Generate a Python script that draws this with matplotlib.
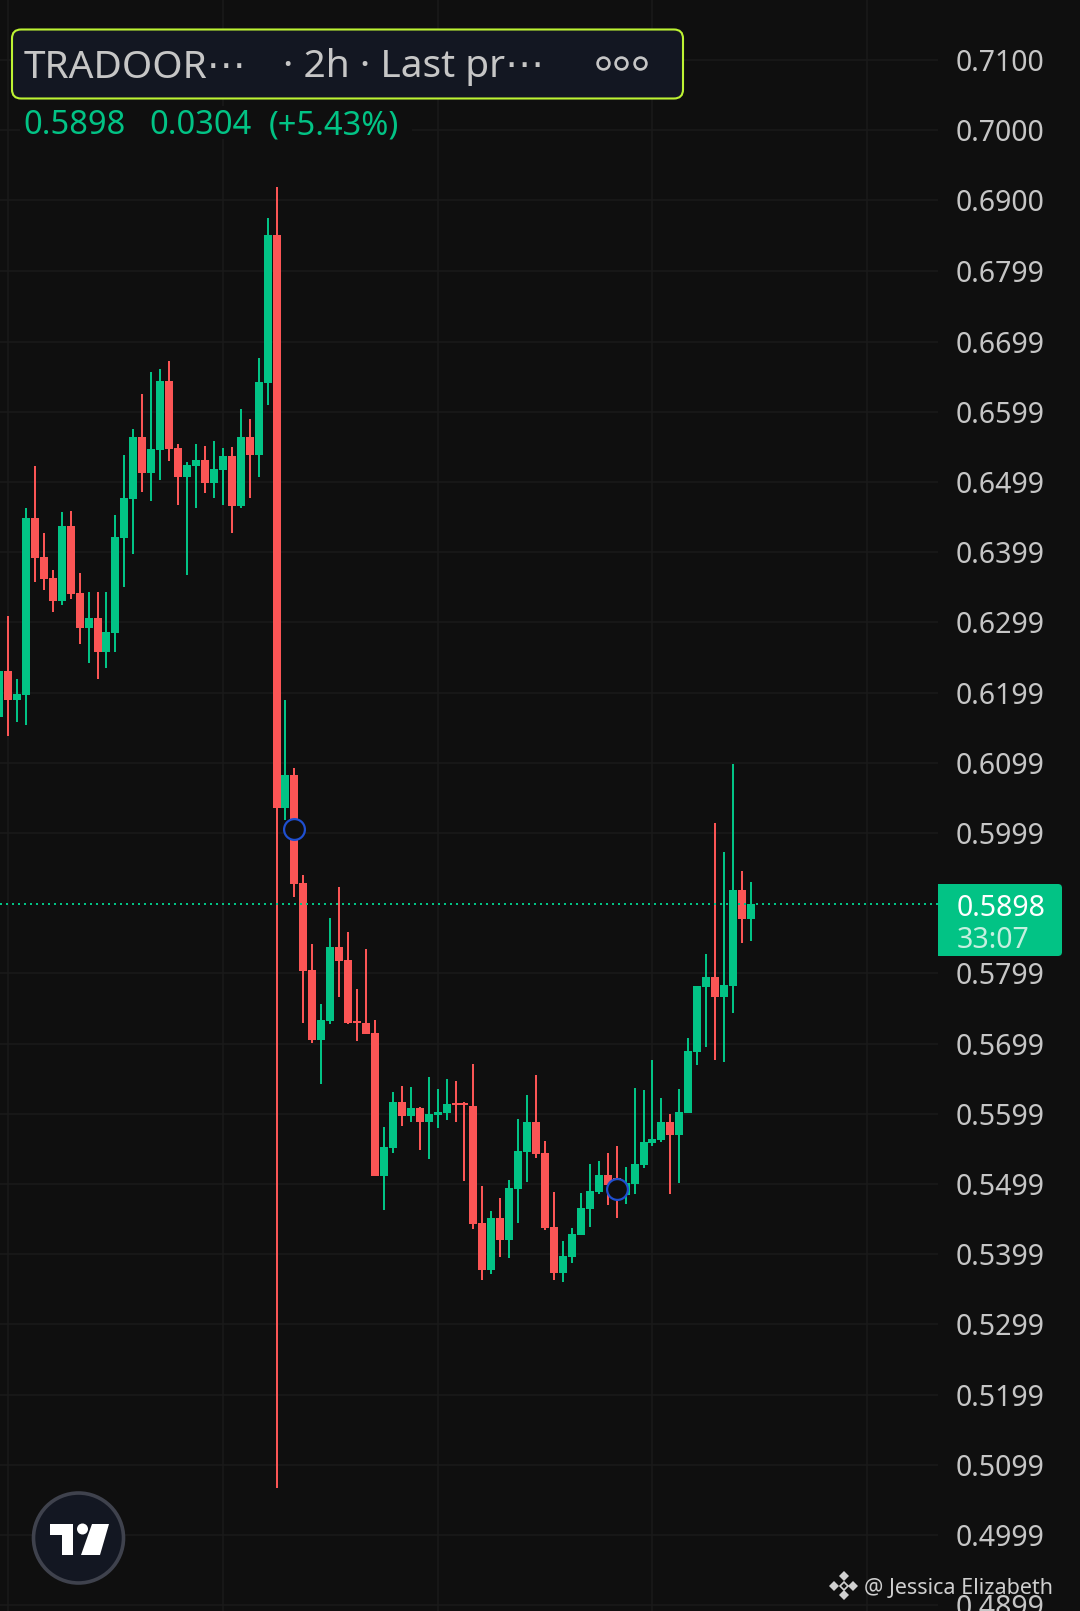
import numpy as np
import matplotlib
matplotlib.use('Agg')
import matplotlib.pyplot as plt
from matplotlib.patches import FancyBboxPatch, Circle, Polygon, Rectangle

# TRADOOR 2h candles
opens = [0.6164, 0.6230, 0.6188, 0.6196, 0.6448, 0.6392, 0.6362, 0.6329, 0.6436, 0.6341, 0.6291, 0.6305,
         0.6257, 0.6284, 0.6419, 0.6475, 0.6563, 0.6512, 0.6545, 0.6643, 0.6547, 0.6506, 0.6522, 0.6530,
         0.6498, 0.6516, 0.6536, 0.6465, 0.6563, 0.6537, 0.6640, 0.6851, 0.6035, 0.6082, 0.5928, 0.5804,
         0.5704, 0.5731, 0.5837, 0.5818, 0.5731, 0.5728, 0.5714, 0.5510, 0.5550, 0.5616, 0.5596, 0.5607,
         0.5587, 0.5597, 0.5600, 0.5614, 0.5614, 0.5610, 0.5443, 0.5377, 0.5451, 0.5419, 0.5492, 0.5545,
         0.5587, 0.5543, 0.5438, 0.5372, 0.5395, 0.5426, 0.5463, 0.5488, 0.5512, 0.5507, 0.5483, 0.5499,
         0.5526, 0.5557, 0.5562, 0.5587, 0.5569, 0.5600, 0.5687, 0.5780, 0.5794, 0.5765, 0.5781, 0.5918,
         0.5876]
highs = [0.6230, 0.6308, 0.6218, 0.6462, 0.6522, 0.6426, 0.6374, 0.6456, 0.6458, 0.6369, 0.6342, 0.6342,
         0.6342, 0.6452, 0.6537, 0.6575, 0.6624, 0.6656, 0.6660, 0.6671, 0.6553, 0.6527, 0.6553, 0.6550,
         0.6557, 0.6547, 0.6549, 0.6603, 0.6589, 0.6676, 0.6875, 0.6919, 0.6188, 0.6092, 0.5939, 0.5841,
         0.5755, 0.5878, 0.5922, 0.5858, 0.5777, 0.5834, 0.5733, 0.5580, 0.5630, 0.5639, 0.5637, 0.5609,
         0.5651, 0.5634, 0.5649, 0.5646, 0.5616, 0.5670, 0.5496, 0.5460, 0.5479, 0.5505, 0.5592, 0.5626,
         0.5654, 0.5560, 0.5488, 0.5418, 0.5436, 0.5486, 0.5527, 0.5532, 0.5543, 0.5553, 0.5523, 0.5636,
         0.5633, 0.5676, 0.5622, 0.5599, 0.5634, 0.5707, 0.5781, 0.5827, 0.6013, 0.5972, 0.6097, 0.5945,
         0.5929]
lows = [0.6164, 0.6137, 0.6157, 0.6153, 0.6357, 0.6345, 0.6314, 0.6324, 0.6332, 0.6268, 0.6241, 0.6218,
        0.6234, 0.6257, 0.6349, 0.6396, 0.6485, 0.6472, 0.6502, 0.6529, 0.6466, 0.6366, 0.6462, 0.6483,
        0.6476, 0.6466, 0.6426, 0.6462, 0.6476, 0.6506, 0.6609, 0.5066, 0.6017, 0.5908, 0.5728, 0.5700,
        0.5641, 0.5727, 0.5765, 0.5727, 0.5703, 0.5713, 0.5510, 0.5462, 0.5543, 0.5582, 0.5587, 0.5547,
        0.5535, 0.5579, 0.5590, 0.5587, 0.5503, 0.5435, 0.5362, 0.5371, 0.5395, 0.5394, 0.5443, 0.5502,
        0.5536, 0.5434, 0.5362, 0.5359, 0.5387, 0.5426, 0.5438, 0.5485, 0.5469, 0.5451, 0.5471, 0.5485,
        0.5522, 0.5553, 0.5559, 0.5485, 0.5500, 0.5600, 0.5668, 0.5694, 0.5676, 0.5673, 0.5743, 0.5842,
        0.5845]
closes = [0.6230, 0.6188, 0.6197, 0.6448, 0.6391, 0.6361, 0.6329, 0.6436, 0.6339, 0.6291, 0.6305, 0.6257,
          0.6285, 0.6421, 0.6476, 0.6563, 0.6512, 0.6546, 0.6643, 0.6546, 0.6506, 0.6523, 0.6530, 0.6498,
          0.6517, 0.6536, 0.6465, 0.6563, 0.6537, 0.6641, 0.6851, 0.6035, 0.6082, 0.5926, 0.5802, 0.5704,
          0.5733, 0.5837, 0.5817, 0.5728, 0.5728, 0.5713, 0.5510, 0.5552, 0.5616, 0.5596, 0.5607, 0.5587,
          0.5599, 0.5602, 0.5613, 0.5612, 0.5612, 0.5442, 0.5377, 0.5451, 0.5419, 0.5493, 0.5546, 0.5587,
          0.5542, 0.5436, 0.5372, 0.5396, 0.5428, 0.5465, 0.5489, 0.5512, 0.5498, 0.5493, 0.5500, 0.5527,
          0.5559, 0.5563, 0.5587, 0.5569, 0.5602, 0.5688, 0.5781, 0.5794, 0.5765, 0.5782, 0.5918, 0.5876,
          0.5898]

price_ticks = [0.7100, 0.7000, 0.6900, 0.6799, 0.6699, 0.6599, 0.6499, 0.6399, 0.6299, 0.6199, 0.6099, 0.5999,
               0.5799, 0.5699, 0.5599, 0.5499, 0.5399, 0.5299, 0.5199, 0.5099, 0.4999, 0.4899]
grid_bars = [0, 24, 48, 72, 96]
last_price = 0.5898
marker_bars = [32, 68]
marker_prices = [0.6005, 0.5492]

BG = '#0f0f0f'
GRID = '#1a1a1a'
UP = '#02c385'
DOWN = '#fb5555'
LABEL = '#c6c6c6'
FONT = ['Noto Sans', 'DejaVu Sans']

plt.rcParams['font.family'] = FONT

W, H = 1080, 1611
fig = plt.figure(figsize=(W / 100, H / 100), dpi=100, facecolor=BG)

# chart pane stops where the price scale starts
ax = fig.add_axes([0, 0, 938 / W, 1], facecolor=BG)
x = np.arange(len(opens)) - 1
opens = np.array(opens)
closes = np.array(closes)
colors = [UP if c >= o else DOWN for o, c in zip(opens, closes)]

ax.vlines(x, lows, highs, colors=colors, linewidth=1.44, zorder=3)
ax.bar(x, np.abs(closes - opens), bottom=np.minimum(opens, closes), width=0.894, color=colors, linewidth=0, zorder=4)

ax.axhline(last_price, color=UP, linewidth=1.44, linestyle=(0, (1, 2)), zorder=5)
ax.plot(marker_bars, marker_prices, linestyle='none', marker='o', markersize=15, markerfacecolor=BG,
        markeredgecolor='#1f4fd0', markeredgewidth=1.6, zorder=6)

ax.set_xlim(-0.894, 103.9)
ax.set_ylim(0.71856 - 1611 * 0.00014245, 0.71856)
ax.set_xticks(grid_bars)
ax.set_yticks(price_ticks)
ax.set_yticklabels(['%.4f' % p for p in price_ticks])
ax.yaxis.tick_right()
ax.tick_params(axis='y', length=0, pad=13, labelsize=20.5, labelcolor=LABEL)
ax.tick_params(axis='x', length=0, labelbottom=False)
ax.grid(True, color=GRID, linewidth=1.1, zorder=0)
ax.set_axisbelow(True)
for s in ax.spines.values():
    s.set_visible(False)

# overlay in pixels for the header, price tag, logo and watermark
ov = fig.add_axes([0, 0, 1, 1], facecolor='none')
ov.set_xlim(0, W)
ov.set_ylim(H, 0)
ov.axis('off')

# header
ov.add_patch(FancyBboxPatch((12, 29.5), 671, 69, boxstyle='round,pad=0,rounding_size=9', facecolor='#131722',
                            edgecolor='#bdf333', linewidth=1.5))
ov.text(24, 63, 'TRADOOR\u22ef', fontsize=28, color=LABEL, va='center_baseline', ha='left')
ov.text(283, 63, '\u00b7 2h \u00b7 Last pr\u22ef', fontsize=28, color=LABEL, va='center_baseline', ha='left')
ov.plot([603, 621, 640], [63, 63, 63], linestyle='none', marker='o', markersize=8.5, markerfacecolor='#131722',
        markeredgecolor=LABEL, markeredgewidth=1.9)

# legend line
ov.add_patch(Rectangle((20, 106), 392, 33, facecolor=BG, edgecolor='none'))
ov.text(23, 122, '0.5898', fontsize=23.5, color=UP, va='center_baseline')
ov.text(149, 122, '0.0304', fontsize=23.5, color=UP, va='center_baseline')
ov.text(269, 122, '(+5.43%)', fontsize=23.5, color=UP, va='center_baseline')

# last price tag
ov.add_patch(FancyBboxPatch((938, 884), 124, 72, boxstyle='round,pad=0,rounding_size=4', facecolor=UP,
                            edgecolor='none'))
ov.add_patch(Rectangle((938, 884), 10, 72, facecolor=UP, edgecolor='none'))
ov.text(957, 905, '0.5898', fontsize=20.5, color='white', va='center_baseline')
ov.text(957, 937, '33:07', fontsize=20.5, color='#c4f0df', va='center_baseline')

# tradingview logo
ov.add_patch(Circle((78.5, 1538), 45, facecolor='#131722', edgecolor='#3f424d', linewidth=2.6))
ov.add_patch(Polygon([(50, 1524), (73, 1524), (73, 1555), (62, 1555), (62, 1535), (50, 1535)], facecolor='white',
                     edgecolor='none'))
ov.add_patch(Circle((82.5, 1529), 5.5, facecolor='white', edgecolor='none'))
ov.add_patch(Polygon([(92, 1524), (109, 1524), (100, 1555), (81, 1555)], facecolor='white', edgecolor='none'))

# watermark
ov.plot([843.5, 843.5, 834, 853], [1576, 1595, 1585.5, 1585.5], linestyle='none', marker='D', markersize=5,
        color='#d0d0d0', markeredgewidth=0)
ov.plot([843.5], [1585.5], linestyle='none', marker='D', markersize=4.5, markerfacecolor='none',
        markeredgecolor='#d0d0d0', markeredgewidth=1.2)
ov.text(864, 1586, '@ Jessica Elizabeth', fontsize=15.5, color='#cfcfcf', va='center_baseline')

fig.savefig('out.png', dpi=100, facecolor=BG)
